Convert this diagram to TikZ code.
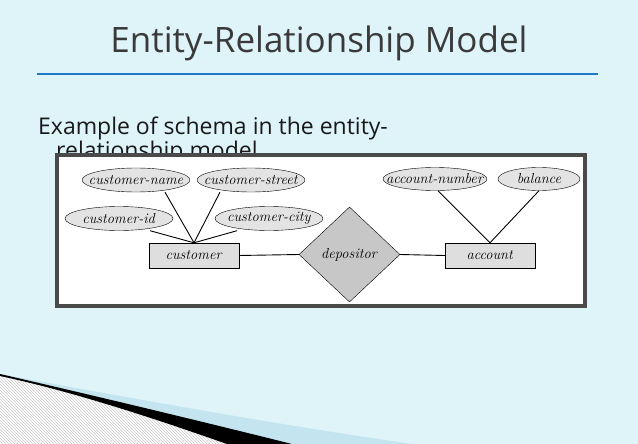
\documentclass[tikz,border=0pt]{standalone}
\usepackage{fontspec}
\setsansfont{Open Sans}
\usetikzlibrary{positioning, shapes, patterns}
\definecolor{slidebg}{RGB}{222,244,249}
\definecolor{bandblue}{RGB}{196,229,239}
\definecolor{titlegray}{RGB}{58,58,58}
\definecolor{rulebue}{RGB}{30,120,200}
\definecolor{framegray}{RGB}{74,74,74}
\newcommand{\tit}[1]{\makebox[0pt]{\textit{#1}}}

\begin{document}
\begin{tikzpicture}[
		x=1pt, y=-1pt,
		attr/.style={draw, ellipse, inner sep=0pt, minimum height=24pt, fill=black!11, font=\fontsize{14.5}{17}\selectfont},
		entity/.style={draw, rectangle, inner sep=0pt, minimum width=90pt, minimum height=25pt, fill=black!13, font=\fontsize{14.5}{17}\selectfont},
		rel/.style={draw, diamond, inner sep=0pt, minimum width=101pt, minimum height=95pt, fill=black!22, font=\fontsize{14.5}{17}\selectfont},
		link/.style={line width=0.9pt},
	]
	\useasboundingbox (0,0) rectangle (638,444);
	\fill[slidebg] (0,0) rectangle (638,444);

	% slide decoration, bottom left
	\fill[bandblue] (0,374) .. controls (150,402) and (300,428) .. (412,444) -- (0,444) -- cycle;
	\fill[white] (0,376) .. controls (80,393) and (170,424) .. (227,444) -- (0,444) -- cycle;
	\fill[pattern=north west lines, pattern color=black!22] (0,376) .. controls (80,393) and (170,424) .. (227,444) -- (0,444) -- cycle;
	\fill[black] (0,374) .. controls (100,397) and (200,421) .. (292,444) -- (227,444) .. controls (170,424) and (80,393) .. (0,376) -- cycle;

	% title and text
	\node[font=\sffamily\fontsize{35}{40}\selectfont, text=titlegray, anchor=base] (title) at (319,53) {Entity-Relationship Model};
	\draw[rulebue, line width=2pt] (37,74) -- (598,74);
	\node[font=\sffamily\fontsize{23}{26}\selectfont, text=black!90, anchor=base west, inner sep=0pt] (line1) at (38,135) {Example of schema in the entity-};
	\node[font=\sffamily\fontsize{23}{26}\selectfont, text=black!90, anchor=base west, inner sep=0pt] (line2) at (56,158) {relationship model};

	% figure frame
	\draw[framegray, line width=4pt, fill=white] (57,155) rectangle (585,306);

	\node[attr, minimum width=108pt] (cname) at (136,180) {\tit{customer-name}};
	\node[attr, minimum width=108pt] (cstreet) at (251,180) {\tit{customer-street}};
	\node[attr, minimum width=108pt] (cid) at (119,218.5) {\tit{customer-id}};
	\node[attr, minimum width=108pt] (ccity) at (269,218.5) {\tit{customer-city}};
	\node[attr, minimum width=104pt, minimum height=23pt] (accnum) at (435,179) {\tit{account-number}};
	\node[attr, minimum width=82pt, minimum height=23pt] (balance) at (539,179) {\tit{balance}};

	\node[entity] (customer) at (194,255.5) {\textit{customer}};
	\node[rel] (depositor) at (349.5,254.5) {\textit{depositor}};
	\node[entity] (account) at (490,255.5) {\textit{account}};

	\draw[link] ([xshift=29pt]cname.south) -- (customer.north);
	\draw[link] ([xshift=-31pt]cstreet.south) -- (customer.north);
	\draw[link] ([xshift=31pt]cid.south) -- (customer.north);
	\draw[link] ([xshift=-32pt]ccity.south) -- (customer.north);
	\draw[link] ([xshift=3pt]accnum.south) -- (account.north);
	\draw[link] (balance.south) -- (account.north);
	\draw[link] (customer.east) -- (depositor.west);
	\draw[link] (depositor.east) -- (account.west);
\end{tikzpicture}
\end{document}
